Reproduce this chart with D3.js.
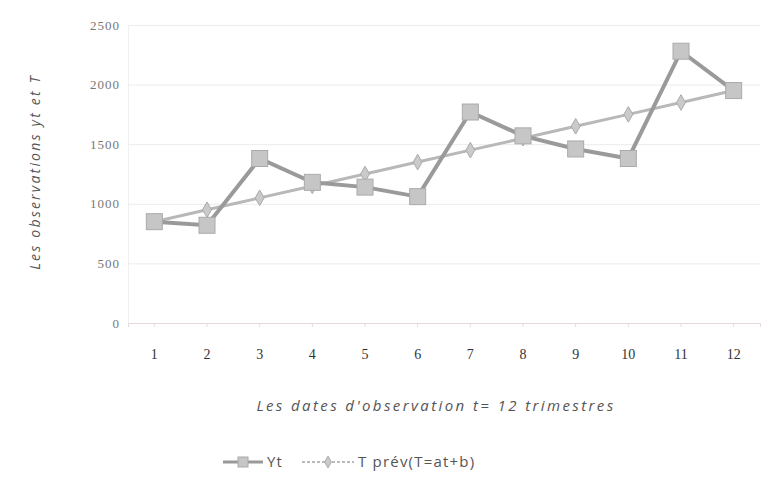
<!DOCTYPE html>
<html>
<head>
<meta charset="utf-8">
<script src="https://cdn.jsdelivr.net/npm/d3@7"></script>
<style>
  body { margin: 0; background: #fff; overflow: hidden; }
  svg { display: block; }
  .tick text { font-family: 'Liberation Serif', serif; }
  .axis-label { font-family: 'Open Sans', sans-serif; font-style: italic; fill: #555; }
  .legend text { font-family: 'Open Sans', sans-serif; fill: #555; font-size: 15px; letter-spacing: 1.2px; }
</style>
</head>
<body>
<svg width="768" height="483"></svg>
<script>
const periods = ['1', '2', '3', '4', '5', '6', '7', '8', '9', '10', '11', '12'];
const yt = [850, 820, 1380, 1180, 1140, 1060, 1770, 1570, 1460, 1380, 2280, 1950];
const tPrev = [850, 950, 1050, 1150, 1250, 1350, 1450, 1550, 1650, 1750, 1850, 1950];
const yTicks = [0, 500, 1000, 1500, 2000, 2500];

const svg = d3.select('svg');
const width = +svg.attr('width');
const height = +svg.attr('height');

const margin = {top: 25, right: 8, bottom: 160, left: 128};
const innerWidth = width - margin.left - margin.right;
const innerHeight = height - margin.top - margin.bottom;

const g = svg.append('g')
    .attr('transform', `translate(${margin.left}, ${margin.top})`);

const xScale = d3.scaleBand()
    .domain(periods)
    .range([0, innerWidth]);

const yScale = d3.scaleLinear()
    .domain([0, 2500])
    .range([innerHeight, 0]);

const xPos = (d, i) => xScale(periods[i]) + xScale.bandwidth() / 2;

// gridlines + y labels
const yAxis = d3.axisLeft(yScale)
    .tickValues(yTicks)
    .tickFormat(d3.format('d'))
    .tickSize(-innerWidth)
    .tickPadding(8);

const yAxisG = g.append('g').call(yAxis);
yAxisG.select('.domain').attr('stroke', '#f0f0f0');
yAxisG.selectAll('line').attr('stroke', '#ececec');
yAxisG.selectAll('text')
    .attr('fill', '#777')
    .attr('font-size', 13)
    .attr('letter-spacing', 1);

// x axis
const xAxis = d3.axisBottom(xScale)
    .tickSize(4)
    .tickPadding(22);

const xAxisG = g.append('g')
    .attr('transform', `translate(0, ${innerHeight})`)
    .call(xAxis);
xAxisG.select('.domain').attr('stroke', '#e4dada');
xAxisG.selectAll('line').attr('stroke', '#ddd');
xAxisG.selectAll('text')
    .attr('fill', '#333')
    .attr('font-size', 14);

xAxisG.append('text')
    .attr('class', 'axis-label')
    .attr('x', innerWidth / 2 - 8)
    .attr('y', 88)
    .attr('font-size', 15)
    .attr('letter-spacing', 2.4)
    .attr('text-anchor', 'middle')
    .text("Les dates d'observation t= 12 trimestres");

yAxisG.append('text')
    .attr('class', 'axis-label')
    .attr('x', -(yScale(1000) + yScale(1500)) / 2 + 2)
    .attr('y', -88)
    .attr('transform', 'rotate(-90)')
    .attr('font-size', 14)
    .attr('letter-spacing', 2.2)
    .attr('text-anchor', 'middle')
    .text('Les observations yt et T');

const line = d3.line()
    .x(xPos)
    .y(d => yScale(d));

// T prév line
g.append('path')
    .attr('d', line(tPrev))
    .attr('fill', 'none')
    .attr('stroke', '#b8b8b8')
    .attr('stroke-width', 3);

g.selectAll('.t-mark')
    .data(tPrev)
    .enter().append('path')
    .attr('class', 't-mark')
    .attr('d', d3.symbol().type(d3.symbolDiamond).size(70))
    .attr('transform', (d, i) => `translate(${xPos(d, i)}, ${yScale(d)})`)
    .attr('fill', '#cacaca')
    .attr('stroke', '#aaa');

// Yt line
g.append('path')
    .attr('d', line(yt))
    .attr('fill', 'none')
    .attr('stroke', '#9a9a9a')
    .attr('stroke-width', 4);

g.selectAll('.y-mark')
    .data(yt)
    .enter().append('rect')
    .attr('class', 'y-mark')
    .attr('x', (d, i) => xPos(d, i) - 8)
    .attr('y', d => yScale(d) - 8)
    .attr('width', 16)
    .attr('height', 16)
    .attr('fill', '#c6c6c6')
    .attr('stroke', '#aaa');

// legend
const legend = svg.append('g').attr('class', 'legend')
    .attr('transform', 'translate(0, 462)');

legend.append('line')
    .attr('x1', 223).attr('x2', 263)
    .attr('stroke', '#999').attr('stroke-width', 3);
legend.append('rect')
    .attr('x', 238).attr('y', -5).attr('width', 10).attr('height', 10)
    .attr('fill', '#c6c6c6').attr('stroke', '#aaa');
legend.append('text').attr('x', 267).attr('y', 5).text('Yt');

legend.append('line')
    .attr('x1', 302).attr('x2', 354)
    .attr('stroke', '#bbb').attr('stroke-width', 2).attr('stroke-dasharray', '3,2');
legend.append('path')
    .attr('d', d3.symbol().type(d3.symbolDiamond).size(40))
    .attr('transform', 'translate(328, 0)')
    .attr('fill', '#cacaca').attr('stroke', '#aaa');
legend.append('text').attr('x', 358).attr('y', 5).text('T prév(T=at+b)');
</script>
</body>
</html>
